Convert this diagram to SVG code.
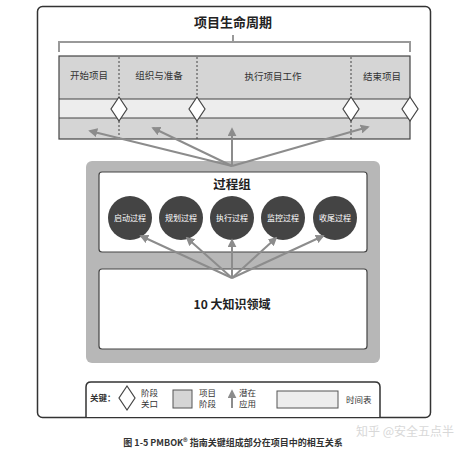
<svg xmlns="http://www.w3.org/2000/svg" width="474" height="452" viewBox="0 0 474 452">
<style>
text{font-family:"Noto Sans CJK SC","Liberation Sans",sans-serif;}
.t{font-weight:bold;fill:#222;text-anchor:middle;}
.ph{font-size:9.5px;fill:#333;text-anchor:middle;}
.c{font-size:8px;fill:#fff;text-anchor:middle;}
.lg{font-size:8.5px;fill:#333;}
.arr{stroke:#8c8c8c;stroke-width:2;fill:none;marker-end:url(#ah);}
.dia{fill:#fff;stroke:#444;stroke-width:1.2;}
.dot{stroke:#444;stroke-width:1;stroke-dasharray:2 2;}
</style>
<defs>
<marker id="ah" viewBox="0 0 10 10" refX="8" refY="5" markerWidth="4.5" markerHeight="4.5" orient="auto" markerUnits="strokeWidth">
<path d="M0,0 L10,5 L0,10 z" fill="#8c8c8c"/>
</marker>
</defs>
<rect width="474" height="452" fill="#fff"/>
<g id="frame">
<rect x="37.5" y="6.5" width="393" height="411" rx="5" fill="#fff" stroke="#333" stroke-width="1.5"/>
<text class="t" x="233" y="27" font-size="13">项目生命周期</text>
<path d="M59,52 V42 H410 V52 M233,42 V35" stroke="#999" stroke-width="2" fill="none"/>
</g>
<g id="lifecycle">
<rect x="59" y="56" width="351" height="43" fill="#d5d5d5"/>
<rect x="59" y="99" width="351" height="19" fill="#ededed"/>
<rect x="59" y="118" width="351" height="21" fill="#d5d5d5"/>
<rect x="59" y="56" width="351" height="83" fill="none" stroke="#444" stroke-width="1.2"/>
<line x1="59" y1="99" x2="410" y2="99" stroke="#444" stroke-width="1.2"/>
<line x1="59" y1="118" x2="410" y2="118" stroke="#444" stroke-width="1.2"/>
<line class="dot" x1="119" y1="57" x2="119" y2="139"/>
<line class="dot" x1="197" y1="57" x2="197" y2="139"/>
<line class="dot" x1="351" y1="57" x2="351" y2="139"/>
<text class="ph" x="89" y="79">开始项目</text>
<text class="ph" x="159" y="79">组织与准备</text>
<text class="ph" x="273" y="80">执行项目工作</text>
<text class="ph" x="382" y="80">结束项目</text>
<polygon class="dia" points="119,97 127,109 119,121 111,109"/>
<polygon class="dia" points="197,97 205,109 197,121 189,109"/>
<polygon class="dia" points="351,97 359,109 351,121 343,109"/>
<polygon class="dia" points="410,97 418,109 410,121 402,109"/>
</g>
<g id="panel">
<rect x="86" y="161" width="294" height="202" rx="6" fill="#b7b7b7"/>
</g>
<g id="process-group">
<rect x="99" y="172" width="268" height="80" rx="3" fill="#fff" stroke="#444" stroke-width="1.2"/>
<text class="t" x="232" y="189" font-size="12.5">过程组</text>
</g>
<g id="p1"><circle cx="130" cy="218" r="22" fill="#444"/><text class="c" x="130" y="221">启动过程</text></g>
<g id="p2"><circle cx="181" cy="218" r="22" fill="#444"/><text class="c" x="181" y="221">规划过程</text></g>
<g id="p3"><circle cx="232" cy="218" r="22" fill="#444"/><text class="c" x="232" y="221">执行过程</text></g>
<g id="p4"><circle cx="283" cy="218" r="22" fill="#444"/><text class="c" x="283" y="221">监控过程</text></g>
<g id="p5"><circle cx="335" cy="218" r="22" fill="#444"/><text class="c" x="335" y="221">收尾过程</text></g>
<g id="knowledge">
<rect x="99" y="269" width="268" height="80" rx="3" fill="#fff" stroke="#444" stroke-width="1.2"/>
<text class="t" x="232" y="309" font-size="12">10 大知识领域</text>
</g>
<g id="connectors">
<path class="arr" d="M232,166 L90,131"/>
<path class="arr" d="M232,166 L153,128"/>
<path class="arr" d="M232,166 L232,129"/>
<path class="arr" d="M232,166 L368,127"/>
<path class="arr" d="M232,278 L141,236"/>
<path class="arr" d="M232,278 L187,238"/>
<path class="arr" d="M232,278 L232,240"/>
<path class="arr" d="M232,278 L276,238"/>
<path class="arr" d="M232,278 L323,236"/>
</g>
<g id="legend">
<path d="M86,417 V387 Q86,382 91,382 H375 Q380,382 380,387 V417" fill="#fff" stroke="#333" stroke-width="1.5"/>
<text class="lg" x="90" y="401" font-weight="bold">关键：</text>
<polygon class="dia" points="127,386 135,398 127,410 119,398"/>
<text class="lg" x="141" y="396">阶段</text>
<text class="lg" x="141" y="407">关口</text>
<rect x="173" y="390" width="19" height="18" fill="#d5d5d5" stroke="#555" stroke-width="1"/>
<text class="lg" x="199" y="396">项目</text>
<text class="lg" x="199" y="407">阶段</text>
<line x1="232" y1="408" x2="232" y2="391" stroke="#8c8c8c" stroke-width="2" marker-end="url(#ah)"/>
<text class="lg" x="239" y="396">潜在</text>
<text class="lg" x="239" y="407">应用</text>
<rect x="277" y="391" width="61" height="17" fill="#ededed" stroke="#555" stroke-width="1"/>
<text class="lg" x="346" y="403">时间表</text>
</g>
<g id="caption">
<text x="233" y="446" font-size="9" font-weight="bold" fill="#333" text-anchor="middle">图 1-5 PMBOK® 指南关键组成部分在项目中的相互关系</text>
<text x="405" y="436" font-size="12" fill="#d8d8d8" text-anchor="middle">知乎 @安全五点半</text>
</g>
</svg>
